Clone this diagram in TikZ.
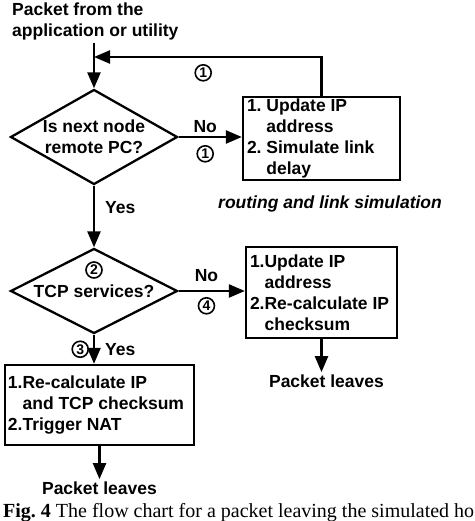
\documentclass[tikz,border=0pt]{standalone}
\usepackage{fontspec}
\setmainfont{Liberation Serif}
\setsansfont{Liberation Sans}
\usetikzlibrary{
    arrows.meta,
    positioning,
    shapes.geometric
}

\begin{document}
\frenchspacing
\begin{tikzpicture}[
    x=1pt, y=-1pt,
    node distance=33pt,
    chart/.style={
        font=\sffamily\bfseries\fontsize{17.5}{21}\selectfont
    },
    decision/.style={
        chart,
        draw,
        diamond,
        line width=2.3pt,
        inner sep=0pt,
        align=center,
        minimum width=167pt
    },
    action/.style={
        chart,
        draw,
        rectangle,
        line width=2.3pt,
        align=flush left,
        inner xsep=4pt,
        inner ysep=2pt
    },
    textonly/.style={
        chart,
        inner sep=2pt,
        align=left
    },
    stepnum/.style={
        draw,
        circle,
        line width=1.6pt,
        inner sep=0pt,
        minimum size=16pt,
        font=\sffamily\bfseries\fontsize{14}{14}\selectfont
    },
    flow/.style={
        -{Triangle[length=16pt,width=13pt]},
        line width=2.3pt
    }
]

\useasboundingbox (0,0) rectangle (474,521);

\node[textonly, anchor=north west] (source) at (10,1)
    {Packet from the\\application or utility};

\node[decision, aspect=1.7, minimum height=95pt] (remote) at (94,137)
    {Is next node\\remote PC?};

\node[action, minimum width=157pt, minimum height=83pt, text width=149pt] (sim) at (321.5,138.5)
    {1. Update IP\\\phantom{1. }address\\2. Simulate link\\\phantom{2. }delay};

\node[textonly, font=\sffamily\bfseries\itshape\fontsize{17.5}{21}\selectfont,
    below=12pt of sim, xshift=8.5pt] (note)
    {routing and link simulation};

\node[decision, aspect=2, minimum height=85pt] (tcp) at (94,291)
    {TCP services?};

\node[stepnum] (two) at (94,270) {2};

\node[action, minimum width=151pt, minimum height=91pt, text width=143pt] (ip) at (321.5,292.5)
    {1.Update IP\\\phantom{1.}address\\2.Re-calculate IP\\\phantom{2.}checksum};

\node[action, inner xsep=3pt, minimum width=189pt, minimum height=80pt, text width=183pt] (nat) at (99.5,405)
    {1.Re-calculate IP\\\phantom{1.}and TCP checksum\\2.Trigger NAT};

\node[textonly, below=33pt of ip, xshift=5pt] (leaveA) {Packet leaves};

\node[textonly, below=33pt of nat] (leaveB) {Packet leaves};

\node[font=\rmfamily\fontsize{20}{22}\selectfont, anchor=base west, inner sep=0pt] (caption) at (3,517)
    {\textbf{Fig. 4} The flow chart for a packet leaving the simulated ho};

\coordinate (merge) at (94,57);

\draw[flow] (source.south -| remote.north) -- (remote.north);
\draw[flow] (sim.north) |- (merge)
    node[stepnum, pos=0.76, below=7pt] (oneA) {1};
\draw[flow] (remote.east) -- (remote.east -| sim.west)
    node[textonly, pos=0.42, above=1pt] (noA) {No}
    node[stepnum, pos=0.42, below=8pt] (oneB) {1};
\draw[flow] (remote.south) -- (tcp.north)
    node[textonly, pos=0.36, right=8pt] (yesA) {Yes};
\draw[flow] (tcp.east) -- (tcp.east -| ip.west)
    node[textonly, pos=0.42, above=6pt] (noB) {No}
    node[stepnum, pos=0.42, below=6pt] (four) {4};
\draw[flow] (tcp.south) -- (tcp.south |- nat.north)
    node[stepnum, pos=0.5, left=5pt] (three) {3}
    node[textonly, pos=0.5, right=8pt] (yesB) {Yes};
\draw[flow] (ip.south) -- (ip.south |- leaveA.north);
\draw[flow] (nat.south) -- (leaveB);

\end{tikzpicture}
\end{document}
